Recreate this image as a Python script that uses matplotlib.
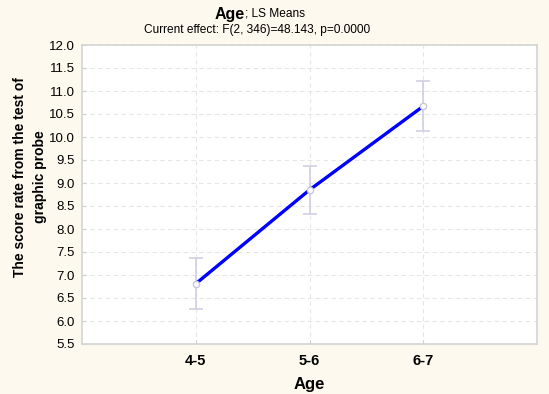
import numpy as np
import matplotlib.pyplot as plt

plt.rcParams['font.family'] = ['Liberation Sans', 'DejaVu Sans']

# LS means
age_groups = ["4-5", "5-6", "6-7"]
ls_means = [6.81, 8.85, 10.67]
ci_low = [6.26, 8.32, 10.14]
ci_high = [7.36, 9.38, 11.21]

bg = "#FDF9EE"
fig = plt.figure(figsize=(5.49, 3.94), dpi=100, facecolor=bg)
ax = fig.add_axes([82 / 549, 1 - 344 / 394, (537 - 82) / 549, (344 - 45) / 394])
ax.set_facecolor("white")

x = np.arange(1, len(age_groups) + 1)
means = np.array(ls_means)
yerr = [means - np.array(ci_low), np.array(ci_high) - means]

ax.errorbar(x, means, yerr=yerr, fmt="none", ecolor="#CFCFE3", elinewidth=1.2,
            capsize=5, capthick=1.2, zorder=2)
ax.plot(x, means, color="#0000FF", lw=2.4, zorder=3)
ax.plot(x, means, "o", ms=4.5, mfc="white", mec="#C8C8DC", mew=1.0, zorder=4)

ax.set_xlim(0, 4)
ax.set_ylim(5.5, 12.0)
ax.set_xticks(x)
ax.set_xticklabels(age_groups, fontsize=10.5, fontweight="bold")
ax.set_yticks(np.arange(5.5, 12.01, 0.5))
ax.set_yticklabels([f"{v:.1f}" for v in np.arange(5.5, 12.01, 0.5)], fontsize=9.5)
ax.tick_params(axis="both", length=3, color="#D0D0D0", direction="in", pad=5)
ax.tick_params(axis="x", pad=7)
ax.grid(True, ls=(0, (4, 3)), color="#E6E6E6", lw=0.8)
ax.set_axisbelow(True)
for s in ax.spines.values():
    s.set_color("#D4D4D4")
    s.set_linewidth(1.2)

ax.set_xlabel("Age", fontsize=12, fontweight="bold", labelpad=7)

fig.text(30 / 549, 1 - 177 / 394, "The score rate from the test of\ngraphic probe",
         rotation=90, ha="center", va="center", multialignment="center",
         fontsize=10, fontweight="bold", linespacing=1.55)

fig.text(245 / 549, 1 - 14 / 394, "Age", ha="right", va="center",
         fontsize=11.5, fontweight="bold")
fig.text(245 / 549, 1 - 14 / 394, "; LS Means", ha="left", va="center", fontsize=8.6)
fig.text(257 / 549, 1 - 30 / 394, "Current effect: F(2, 346)=48.143, p=0.0000",
         ha="center", va="center", fontsize=8.6)

fig.savefig("out.png", dpi=100, facecolor=bg)
